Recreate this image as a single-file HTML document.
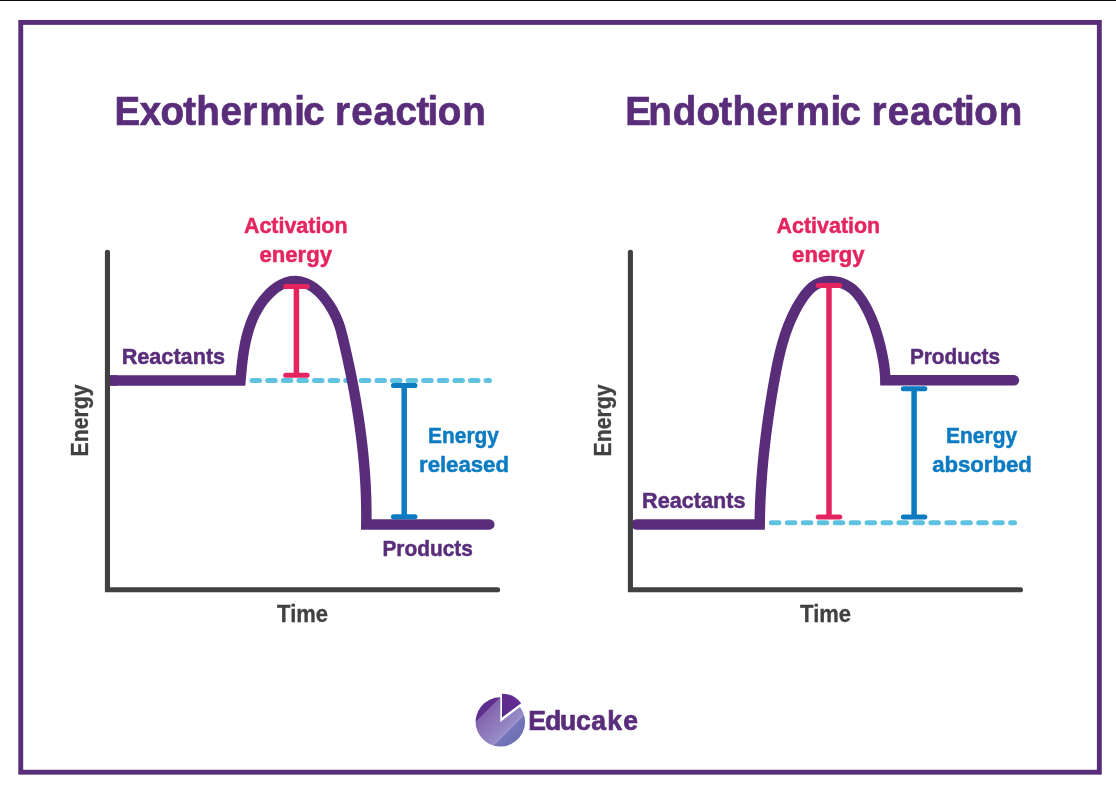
<!DOCTYPE html>
<html lang="en"><head><meta charset="utf-8"><title>Exothermic and endothermic reactions</title>
<style>
html,body{margin:0;padding:0;background:#fff;}
body{width:1116px;height:794px;overflow:hidden;}
svg{display:block;}
svg text{font-family:"Liberation Sans",sans-serif;font-weight:700;}
</style></head><body>
<svg width="1116" height="794" viewBox="0 0 1116 794" role="img" aria-label="Energy profile diagrams for exothermic and endothermic reactions">
<rect x="0" y="0" width="1116" height="794" fill="#ffffff"/>
<rect x="0" y="0" width="1116" height="1" fill="#080808"/>
<rect x="20.75" y="22.4" width="1078.6" height="749.8" fill="none" stroke="#5a2d7b" stroke-width="4.9"/>
<text transform="scale(0.940,1)" x="121.91 148.66 170.83 195.05 208.81 234.51 257.68 275.68 312.99 322.65 333.29 356.41 373.66 397.23 420.82 443.20 454.91 465.72 491.71" y="125.30" font-size="41.00" fill="#5a2d7b" stroke="#5a2d7b" stroke-width="0.70" stroke-linejoin="round">Exothermic reaction</text>
<text transform="scale(0.940,1)" x="665.24 689.56 715.75 740.99 765.25 779.29 804.83 828.06 846.43 883.42 893.19 903.82 927.15 944.40 967.97 991.57 1013.94 1025.65 1036.47 1062.45" y="125.30" font-size="41.00" fill="#5a2d7b" stroke="#5a2d7b" stroke-width="0.70" stroke-linejoin="round">Endothermic reaction</text>
<path d="M252.1,380.5 H489.5" stroke="#5fc2e0" stroke-width="5" stroke-linecap="round" stroke-dasharray="7.5 8.1" fill="none"/>
<path d="M771.4,522.8 H1014.5" stroke="#5fc2e0" stroke-width="5" stroke-linecap="round" stroke-dasharray="7.5 8.45" fill="none"/>
<path d="M112.00,380.45 L240.50,380.45 L240.90,375.66 L241.34,370.81 L241.84,365.92 L242.40,360.99 L243.05,356.04 L243.80,351.08 L244.67,346.14 L245.66,341.23 L246.81,336.36 L248.11,331.55 L249.59,326.81 L251.27,322.15 L253.14,317.60 L255.25,313.17 L257.59,308.87 L260.18,304.72 L263.04,300.73 L266.18,296.92 L269.62,293.30 L273.36,289.92 L277.39,286.90 L281.66,284.36 L286.17,282.45 L290.87,281.28 L295.75,281.00 L300.71,281.65 L305.57,283.12 L310.11,285.26 L314.27,287.95 L318.06,291.10 L321.54,294.63 L324.75,298.42 L327.71,302.41 L330.45,306.54 L332.95,310.81 L335.21,315.20 L337.22,319.70 L338.98,324.29 L340.49,328.96 L341.76,333.70 L342.92,338.48 L344.06,343.26 L345.18,348.06 L346.27,352.86 L347.35,357.68 L348.40,362.51 L349.42,367.34 L350.43,372.19 L351.40,377.04 L352.36,381.89 L353.29,386.76 L354.19,391.62 L355.07,396.49 L355.92,401.37 L356.74,406.25 L357.53,411.13 L358.29,416.02 L359.03,420.91 L359.73,425.81 L360.41,430.70 L361.05,435.61 L361.65,440.51 L362.23,445.42 L362.77,450.34 L363.28,455.25 L363.75,460.17 L364.18,465.10 L364.58,470.02 L364.94,474.95 L365.26,479.88 L365.54,484.82 L365.78,489.76 L365.98,494.70 L366.14,499.64 L366.26,504.59 L366.34,509.54 L366.37,514.49 L366.36,519.44 L366.30,524.40 L489.30,524.40" fill="none" stroke="#5a2d7b" stroke-width="10.5" stroke-linecap="round" stroke-linejoin="miter" stroke-miterlimit="10"/>
<path d="M636.30,524.40 L759.70,524.40 L759.77,519.44 L759.88,514.48 L760.01,509.54 L760.19,504.60 L760.39,499.66 L760.63,494.73 L760.91,489.81 L761.21,484.90 L761.54,479.98 L761.91,475.08 L762.31,470.18 L762.73,465.28 L763.18,460.38 L763.67,455.49 L764.18,450.61 L764.72,445.72 L765.28,440.84 L765.87,435.96 L766.49,431.09 L767.13,426.21 L767.80,421.34 L768.49,416.46 L769.21,411.59 L769.95,406.72 L770.71,401.84 L771.49,396.97 L772.30,392.10 L773.12,387.22 L773.97,382.35 L774.84,377.47 L775.74,372.60 L776.68,367.74 L777.68,362.88 L778.73,358.05 L779.85,353.23 L781.05,348.44 L782.34,343.68 L783.73,338.96 L785.23,334.27 L786.84,329.63 L788.58,325.03 L790.45,320.48 L792.47,315.99 L794.65,311.56 L796.99,307.19 L799.50,302.90 L802.20,298.67 L805.11,294.58 L808.28,290.78 L811.78,287.43 L815.66,284.68 L819.97,282.69 L824.66,281.51 L829.58,281.09 L834.59,281.41 L839.56,282.43 L844.34,284.11 L848.78,286.43 L852.77,289.33 L856.28,292.75 L859.39,296.55 L862.18,300.64 L864.74,304.88 L867.10,309.22 L869.28,313.64 L871.29,318.15 L873.15,322.72 L874.85,327.35 L876.41,332.04 L877.85,336.76 L879.16,341.52 L880.36,346.31 L881.47,351.11 L882.48,355.92 L883.38,360.75 L884.14,365.59 L884.73,370.47 L885.13,375.39 L885.30,380.35 L1014.00,380.35" fill="none" stroke="#5a2d7b" stroke-width="10.5" stroke-linecap="round" stroke-linejoin="miter" stroke-miterlimit="10"/>
<rect x="107" y="375.2" width="10" height="10.5" fill="#5a2d7b"/>
<path d="M107.45,252.3 V589.75 H497.6" fill="none" stroke="#414141" stroke-width="5.1" stroke-linecap="round" stroke-linejoin="miter"/>
<path d="M630.4,252.3 V589.75 H1020.5" fill="none" stroke="#414141" stroke-width="5.1" stroke-linecap="round" stroke-linejoin="miter"/>
<g stroke="#e5255f" stroke-width="5.0" stroke-linecap="round" fill="none"><path d="M285.65,286.40 H307.15 M285.65,375.30 H307.15"/><path d="M296.40,286.40 V375.30" stroke-linecap="butt" stroke-width="5.5"/></g>
<g stroke="#0c7bc2" stroke-width="5.0" stroke-linecap="round" fill="none"><path d="M393.45,385.50 H414.95 M393.45,516.70 H414.95"/><path d="M404.20,385.50 V516.70" stroke-linecap="butt" stroke-width="5.5"/></g>
<g stroke="#e5255f" stroke-width="5.0" stroke-linecap="round" fill="none"><path d="M818.25,285.50 H839.75 M818.25,517.00 H839.75"/><path d="M829.00,285.50 V517.00" stroke-linecap="butt" stroke-width="5.5"/></g>
<g stroke="#0c7bc2" stroke-width="5.0" stroke-linecap="round" fill="none"><path d="M903.35,388.80 H924.85 M903.35,517.00 H924.85"/><path d="M914.10,388.80 V517.00" stroke-linecap="butt" stroke-width="5.5"/></g>
<text x="295.75" y="233.25" font-size="22.40" fill="#e5255f" text-anchor="middle" textLength="103.60" lengthAdjust="spacingAndGlyphs" stroke="#e5255f" stroke-width="0.50" stroke-linejoin="round">Activation</text>
<text x="295.75" y="261.75" font-size="22.40" fill="#e5255f" text-anchor="middle" textLength="72.60" lengthAdjust="spacingAndGlyphs" stroke="#e5255f" stroke-width="0.50" stroke-linejoin="round">energy</text>
<text x="828.40" y="233.25" font-size="22.40" fill="#e5255f" text-anchor="middle" textLength="103.60" lengthAdjust="spacingAndGlyphs" stroke="#e5255f" stroke-width="0.50" stroke-linejoin="round">Activation</text>
<text x="828.40" y="261.75" font-size="22.40" fill="#e5255f" text-anchor="middle" textLength="72.60" lengthAdjust="spacingAndGlyphs" stroke="#e5255f" stroke-width="0.50" stroke-linejoin="round">energy</text>
<text x="173.40" y="364.15" font-size="22.40" fill="#5a2d7b" text-anchor="middle" textLength="103.50" lengthAdjust="spacingAndGlyphs" stroke="#5a2d7b" stroke-width="0.50" stroke-linejoin="round">Reactants</text>
<text x="427.60" y="556.15" font-size="22.40" fill="#5a2d7b" text-anchor="middle" textLength="90.40" lengthAdjust="spacingAndGlyphs" stroke="#5a2d7b" stroke-width="0.50" stroke-linejoin="round">Products</text>
<text x="693.80" y="508.25" font-size="22.40" fill="#5a2d7b" text-anchor="middle" textLength="103.50" lengthAdjust="spacingAndGlyphs" stroke="#5a2d7b" stroke-width="0.50" stroke-linejoin="round">Reactants</text>
<text x="955.00" y="364.05" font-size="22.40" fill="#5a2d7b" text-anchor="middle" textLength="90.20" lengthAdjust="spacingAndGlyphs" stroke="#5a2d7b" stroke-width="0.50" stroke-linejoin="round">Products</text>
<text x="463.50" y="443.15" font-size="22.40" fill="#0c7bc2" text-anchor="middle" textLength="70.80" lengthAdjust="spacingAndGlyphs" stroke="#0c7bc2" stroke-width="0.50" stroke-linejoin="round">Energy</text>
<text x="464.00" y="472.15" font-size="22.40" fill="#0c7bc2" text-anchor="middle" textLength="90.00" lengthAdjust="spacingAndGlyphs" stroke="#0c7bc2" stroke-width="0.50" stroke-linejoin="round">released</text>
<text x="981.60" y="443.15" font-size="22.40" fill="#0c7bc2" text-anchor="middle" textLength="71.00" lengthAdjust="spacingAndGlyphs" stroke="#0c7bc2" stroke-width="0.50" stroke-linejoin="round">Energy</text>
<text x="982.00" y="472.15" font-size="22.40" fill="#0c7bc2" text-anchor="middle" textLength="99.70" lengthAdjust="spacingAndGlyphs" stroke="#0c7bc2" stroke-width="0.50" stroke-linejoin="round">absorbed</text>
<text x="302.60" y="621.55" font-size="23.30" fill="#414141" text-anchor="middle" textLength="51.00" lengthAdjust="spacingAndGlyphs" stroke="#414141" stroke-width="0.30" stroke-linejoin="round">Time</text>
<text x="825.60" y="621.55" font-size="23.30" fill="#414141" text-anchor="middle" textLength="51.00" lengthAdjust="spacingAndGlyphs" stroke="#414141" stroke-width="0.30" stroke-linejoin="round">Time</text>
<text transform="translate(87.80,420.4) rotate(-90)" x="0" y="0" font-size="23.3" fill="#414141" stroke="#414141" stroke-width="0.3" stroke-linejoin="round" text-anchor="middle" textLength="72" lengthAdjust="spacingAndGlyphs">Energy</text>
<text transform="translate(610.90,420.4) rotate(-90)" x="0" y="0" font-size="23.3" fill="#414141" stroke="#414141" stroke-width="0.3" stroke-linejoin="round" text-anchor="middle" textLength="72" lengthAdjust="spacingAndGlyphs">Energy</text>
<defs><linearGradient id="pg" gradientUnits="userSpaceOnUse" x1="475.6" y1="697.2" x2="525.1" y2="746.6">
<stop offset="0" stop-color="#5a2a8c"/><stop offset="0.245" stop-color="#5f2f90"/><stop offset="0.245" stop-color="#8263ac"/>
<stop offset="0.64" stop-color="#968bc8"/><stop offset="0.672" stop-color="#9d95d0"/><stop offset="0.672" stop-color="#7476b8"/><stop offset="1" stop-color="#6a6bb0"/></linearGradient>
<linearGradient id="wg" gradientUnits="userSpaceOnUse" x1="502" y1="717" x2="520" y2="694"><stop offset="0" stop-color="#572888"/><stop offset="1" stop-color="#672f96"/></linearGradient></defs>
<path d="M500.35,721.90 L520.00,706.93 A24.70,24.70 0 1 1 500.35,697.20 Z" fill="url(#pg)"/>
<path d="M502.00,717.50 L502.00,693.70 A23.80,23.80 0 0 1 521.13,703.34 Z" fill="url(#wg)"/>
<text transform="scale(0.950,1)" x="556.05 573.75 589.56 606.34 622.45 639.33 656.15" y="730.30" font-size="28.00" fill="#5a2d7b" stroke="#5a2d7b" stroke-width="0.70" stroke-linejoin="round">Educake</text>
</svg>
</body></html>
